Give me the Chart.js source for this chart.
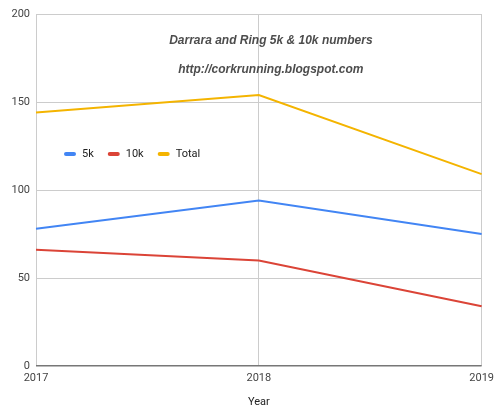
<!DOCTYPE html>
<html>
<head>
<meta charset="utf-8">
<script src="https://cdn.jsdelivr.net/npm/chart.js@4/dist/chart.umd.min.js"></script>
<style>
  html, body { margin: 0; padding: 0; background: #fff; }
  #wrap { width: 500px; height: 417px; }
</style>
</head>
<body>
<div id="wrap"><canvas id="chart"></canvas></div>
<script>
// data
const years = ['2017', '2018', '2019'];
const fiveK = [78, 94, 75];
const tenK = [66, 60, 34];
const total = [144, 154, 109];
const yTicks = [0, 50, 100, 150, 200];
const titleLines = ['Darrara and Ring 5k & 10k numbers', 'http://corkrunning.blogspot.com'];
const xTitle = 'Year';

// ------------------------------
// Title lines drawn inside the plot area, like the original.
const innerTitlePlugin = {
  id: 'innerTitlePlugin',
  afterDatasetsDraw: function(chart) {
    const ctx = chart.ctx;
    const area = chart.chartArea;
    ctx.save();
    ctx.textAlign = 'center';
    ctx.textBaseline = 'middle';
    ctx.fillStyle = '#4d4d4d';
    ctx.font = 'italic bold 12px "Liberation Sans", Arial';
    const cx = area.left + (area.right - area.left) * 0.527;
    titleLines.forEach(function(line, i) {
      ctx.fillText(line, cx, area.top + 27 + i * 29);
    });
    ctx.restore();
  }
};

// ------------------------------
// Legend inside the plot, short rounded line markers.
const innerLegendPlugin = {
  id: 'innerLegendPlugin',
  afterDatasetsDraw: function(chart) {
    const ctx = chart.ctx;
    const area = chart.chartArea;
    let x = area.left + 28;
    const y = area.top + 140;
    ctx.save();
    ctx.font = '11px Roboto';
    ctx.textBaseline = 'middle';
    ctx.textAlign = 'left';
    chart.data.datasets.forEach(function(ds) {
      ctx.strokeStyle = ds.borderColor;
      ctx.lineWidth = 4;
      ctx.lineCap = 'round';
      ctx.beginPath();
      ctx.moveTo(x + 2, y);
      ctx.lineTo(x + 10, y);
      ctx.stroke();
      ctx.fillStyle = '#222';
      ctx.fillText(ds.label, x + 18, y);
      x += 18 + ctx.measureText(ds.label).width + 14;
    });
    ctx.restore();
  }
};

const ctx = document.getElementById('chart').getContext('2d');
new Chart(ctx, {
  type: 'line',
  data: {
    labels: years,
    datasets: [
      { label: '5k', data: fiveK, borderColor: '#4285f4', backgroundColor: '#4285f4' },
      { label: '10k', data: tenK, borderColor: '#db4437', backgroundColor: '#db4437' },
      { label: 'Total', data: total, borderColor: '#f4b400', backgroundColor: '#f4b400' }
    ]
  },
  options: {
    responsive: true,
    maintainAspectRatio: false,
    animation: false,
    layout: { padding: { left: 0, right: 18, top: 14, bottom: 4 } },
    elements: {
      line: { borderWidth: 2, tension: 0 },
      point: { radius: 0 }
    },
    scales: {
      x: {
        offset: false,
        grid: { color: '#cccccc', drawTicks: false },
        border: { display: false },
        ticks: { color: '#444', font: { family: 'Roboto', size: 11 }, padding: 6, maxRotation: 0 },
        title: { display: true, text: xTitle, color: '#222', font: { family: 'Roboto', size: 11 }, padding: { top: 10 } },
        afterFit: function(scale) { scale.height = 47; }
      },
      y: {
        min: 0,
        max: 200,
        afterBuildTicks: function(scale) {
          scale.ticks = yTicks.map(v => ({ value: v }));
        },
        grid: {
          drawTicks: false,
          color: function(c) { return c.tick && c.tick.value === 0 ? '#777' : '#cccccc'; },
          lineWidth: function(c) { return c.tick && c.tick.value === 0 ? 1.5 : 1; }
        },
        border: { display: false },
        ticks: { color: '#444', font: { family: 'Roboto', size: 11 }, padding: 6 },
        afterFit: function(scale) { scale.width = 36; }
      }
    },
    plugins: {
      legend: { display: false },
      tooltip: { enabled: false }
    }
  },
  plugins: [innerTitlePlugin, innerLegendPlugin]
});
</script>
</body>
</html>
